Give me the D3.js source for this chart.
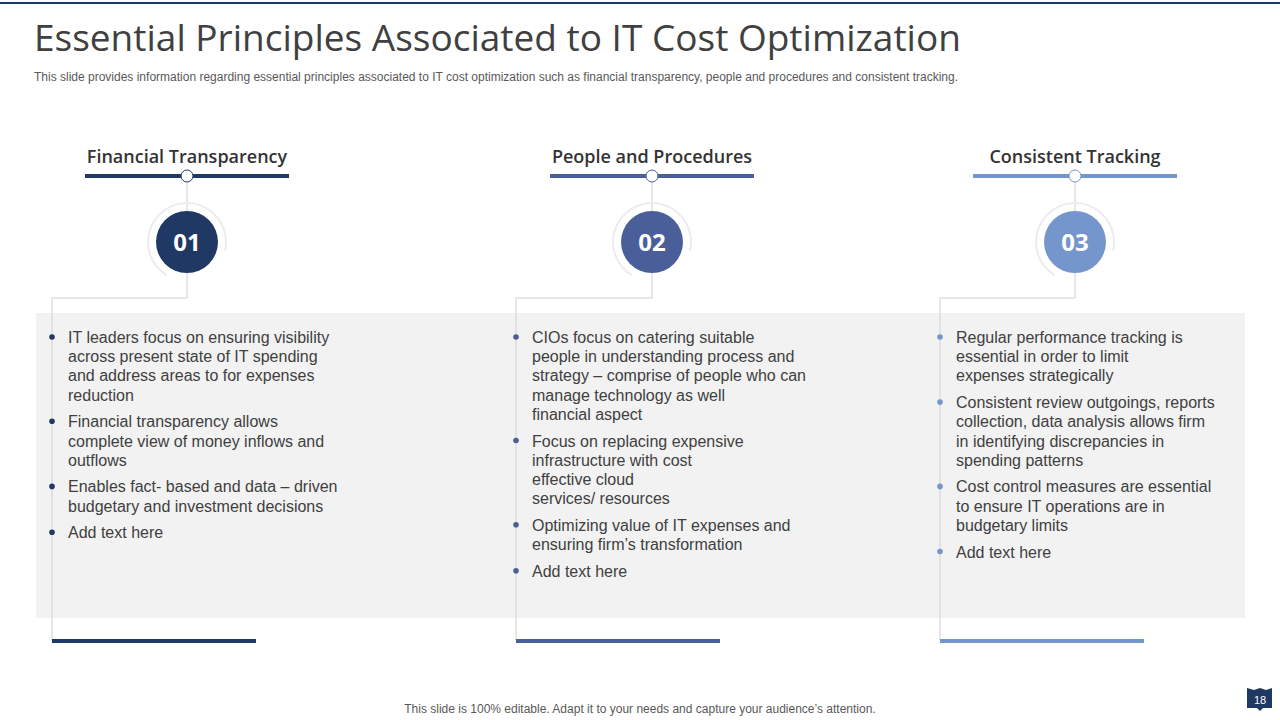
<!DOCTYPE html>
<html><head><meta charset="utf-8">
<script src="https://cdn.jsdelivr.net/npm/d3@7"></script>
<style>body{margin:0;background:#fff}svg{display:block;font-family:"Liberation Sans",Arial,sans-serif}</style>
</head><body><div id="app"></div>
<script>
const titles = ["Financial Transparency", "People and Procedures", "Consistent Tracking"];
const numbers = ["01", "02", "03"];
const colors = ["#203864", "#4a5f9a", "#7596cc"];
const bullets = [
  [["IT leaders focus on ensuring visibility", "across present state of IT spending", "and address areas to for expenses", "reduction"],
   ["Financial transparency allows", "complete view of money inflows and", "outflows"],
   ["Enables fact- based and data – driven", "budgetary and investment decisions"],
   ["Add text here"]],
  [["CIOs focus on catering suitable", "people in understanding process and", "strategy – comprise of people who can", "manage technology as well", "financial aspect"],
   ["Focus on replacing expensive", "infrastructure  with cost", "effective cloud", "services/ resources"],
   ["Optimizing value of IT expenses and", "ensuring firm’s transformation"],
   ["Add text here"]],
  [["Regular performance tracking is", "essential in order to limit", "expenses strategically"],
   ["Consistent review outgoings, reports", "collection, data analysis allows firm", "in identifying discrepancies in", "spending patterns"],
   ["Cost control measures are essential", "to ensure IT operations are in", "budgetary limits"],
   ["Add text here"]]
];
const centers = [187, 652, 1075];
const leftLines = [52, 516, 940];

const svg = d3.select('#app').append('svg').attr('width', 1280).attr('height', 720);
svg.append('rect').attr('x', 0).attr('y', 2).attr('width', 1280).attr('height', 2).attr('fill', '#203864');
svg.append('text').attr('x', 34).attr('y', 51).attr('font-size', 37).attr('fill', '#404040')
  .attr('font-family', '"Open Sans",sans-serif')
  .text('Essential Principles Associated to IT Cost Optimization');
svg.append('text').attr('x', 34).attr('y', 81).attr('font-size', 12).attr('fill', '#595959')
  .attr('textLength', 924).attr('lengthAdjust', 'spacingAndGlyphs')
  .text('This slide provides information regarding essential principles associated to IT cost optimization such as financial transparency, people and procedures and consistent tracking.');
svg.append('rect').attr('x', 36).attr('y', 313).attr('width', 1209).attr('height', 305).attr('fill', '#f2f2f2');

const col = svg.selectAll('g.col').data(titles).join('g').attr('class', 'col');
col.each(function (t, i) {
  const g = d3.select(this), cx = centers[i], lx = leftLines[i], c = colors[i];
  g.append('path').attr('fill', 'none').attr('stroke', '#d0d0d0').attr('stroke-width', 1)
    .attr('d', `M${cx},182V212M${cx},272V298H${lx}V640`);
  g.append('text').attr('x', cx).attr('y', 163).attr('text-anchor', 'middle').attr('font-size', 18)
    .attr('font-weight', 600).attr('fill', '#333').attr('font-family', '"Open Sans",sans-serif').text(t);
  g.append('rect').attr('x', cx - 102).attr('y', 174).attr('width', 204).attr('height', 4).attr('fill', c);
  g.append('circle').attr('cx', cx).attr('cy', 176).attr('r', 6).attr('fill', '#fff').attr('stroke', c).attr('stroke-width', 1);
  g.append('path').attr('transform', `translate(${cx},242)`).attr('fill', '#ececec')
    .attr('d', d3.arc().innerRadius(38).outerRadius(40).startAngle(-2.6).endAngle(1.8)());
  g.append('circle').attr('cx', cx).attr('cy', 242).attr('r', 31).attr('fill', c);
  g.append('text').attr('x', cx).attr('y', 251).attr('text-anchor', 'middle').attr('font-size', 24)
    .attr('font-weight', 'bold').attr('fill', '#fff').attr('font-family', '"Open Sans",sans-serif').text(numbers[i]);
  g.append('rect').attr('x', lx).attr('y', 639).attr('width', 204).attr('height', 4).attr('fill', c);
  let y = 343;
  bullets[i].forEach(item => {
    g.append('circle').attr('cx', lx).attr('cy', y - 6).attr('r', 2.8).attr('fill', c);
    const tx = g.append('text').attr('font-size', 16).attr('fill', '#404040');
    item.forEach((ln, k) => tx.append('tspan').attr('x', lx + 16).attr('y', y + k * 19.2).text(ln));
    y += item.length * 19.2 + 7.5;
  });
});

svg.append('text').attr('x', 640).attr('y', 713).attr('text-anchor', 'middle').attr('font-size', 12)
  .attr('fill', '#595959').text('This slide is 100% editable. Adapt it to your needs and capture your audience\u2019s attention.');
svg.append('path').attr('fill', '#203864').attr('d', 'M1247,688L1254,690L1260,688L1266,690L1272,688V708H1263L1260,711L1257,708H1247Z');
svg.append('text').attr('x', 1260).attr('y', 704).attr('text-anchor', 'middle').attr('font-size', 11).attr('fill', '#fff').text('18');
</script></body></html>
